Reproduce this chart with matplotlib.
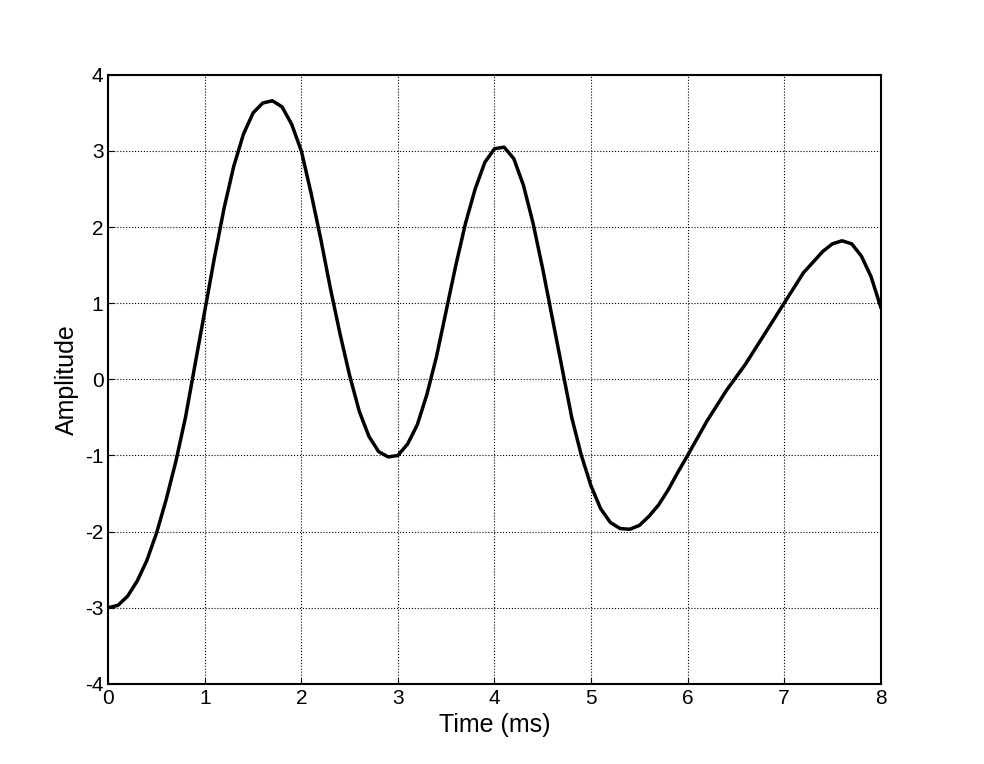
import matplotlib.pyplot as plt

# values
time_ms = [0.0, 0.1, 0.2, 0.3, 0.4, 0.5, 0.6, 0.7, 0.8, 0.9, 1.0, 1.1, 1.2, 1.3, 1.4, 1.5,
           1.6, 1.7, 1.8, 1.9, 2.0, 2.1, 2.2, 2.3, 2.4, 2.5, 2.6, 2.7, 2.8, 2.9, 3.0,
           3.1, 3.2, 3.3, 3.4, 3.5, 3.6, 3.7, 3.8, 3.9, 4.0, 4.1, 4.2, 4.3, 4.4, 4.5,
           4.6, 4.7, 4.8, 4.9, 5.0, 5.1, 5.2, 5.3, 5.4, 5.5, 5.6, 5.7, 5.8, 5.9, 6.0,
           6.2, 6.4, 6.6, 6.8, 7.0, 7.2, 7.4, 7.5, 7.6, 7.7, 7.8, 7.9, 8.0]
amplitude = [-3.0, -2.97, -2.85, -2.65, -2.38, -2.02, -1.58, -1.08, -0.5, 0.2, 0.9, 1.6,
             2.25, 2.8, 3.22, 3.5, 3.63, 3.66, 3.58, 3.35, 3.0, 2.45, 1.85, 1.2, 0.6,
             0.05, -0.42, -0.75, -0.95, -1.02, -1.0, -0.85, -0.6, -0.2, 0.3, 0.9, 1.5,
             2.05, 2.5, 2.85, 3.03, 3.05, 2.9, 2.55, 2.05, 1.45, 0.8, 0.15, -0.5, -1.0,
             -1.4, -1.7, -1.88, -1.96, -1.97, -1.92, -1.8, -1.65, -1.45, -1.22, -1.0,
             -0.55, -0.15, 0.2, 0.6, 1.0, 1.4, 1.68, 1.78, 1.82, 1.78, 1.62, 1.35, 0.95]

plt.rcParams['font.family'] = ['Liberation Sans', 'DejaVu Sans']
plt.rcParams['axes.unicode_minus'] = False

fig = plt.figure(figsize=(9.84, 7.64), dpi=100)
ax = fig.add_axes([0.11, 0.105, 0.785, 0.797])
ax.plot(time_ms, amplitude, color='black', linewidth=2.5)

ax.set_xlim(0, 8)
ax.set_ylim(-4, 4)
ax.set_xticks(range(0, 9))
ax.set_yticks(range(-4, 5))
ax.grid(True, color='black', linestyle=':', linewidth=0.8)
ax.tick_params(direction='in', labelsize=15, length=4)
for s in ax.spines.values():
    s.set_linewidth(1.5)

ax.set_xlabel('Time (ms)', fontsize=18)
ax.set_ylabel('Amplitude', fontsize=18)

fig.savefig('out.png', dpi=100)
